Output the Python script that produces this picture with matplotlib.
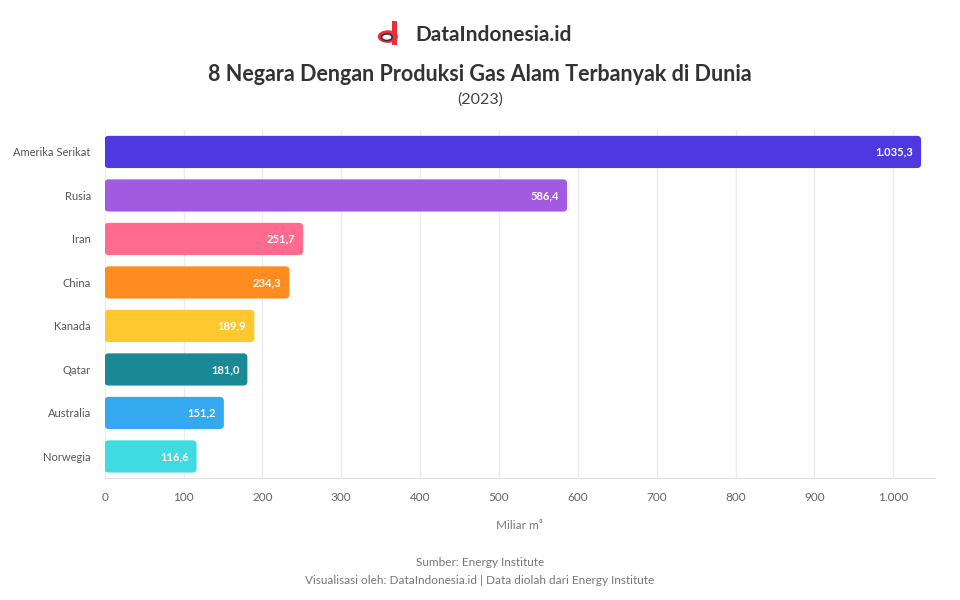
import numpy as np
import matplotlib.pyplot as plt
from matplotlib.patches import FancyBboxPatch, Circle, Rectangle

# ==================================================
# DATA
# ==================================================
negara = ["Amerika Serikat", "Rusia", "Iran", "China", "Kanada", "Qatar", "Australia", "Norwegia"]
produksi = [1035.3, 586.4, 251.7, 234.3, 189.9, 181.0, 151.2, 116.6]   # miliar m3
warna = ["#5038e0", "#a25be0", "#ff6b8e", "#ff8c1f", "#ffc82e", "#1b8995", "#35a9ef", "#40dbe0"]
xticks = [0, 100, 200, 300, 400, 500, 600, 700, 800, 900, 1000]


def format_id(v, desimal=1):
    # format angka gaya Indonesia: titik ribuan, koma desimal
    s = f"{v:,.{desimal}f}"
    return s.replace(",", "X").replace(".", ",").replace("X", ".")


plt.rcParams['font.family'] = ['Lato', 'DejaVu Sans']

fig = plt.figure(figsize=(9.6, 6), dpi=100)
ax = fig.add_axes([0.109, 0.203, 0.865, 0.580])

xmax = 1053
ax.set_xlim(0, xmax)
ax.set_ylim(7.5, -0.5)

# skala piksel -> data, untuk sudut bulat
px_x = xmax / (0.865 * 960)
px_y = 8 / (0.580 * 600)
r = 4 * px_x
tinggi = 0.74

for i, (v, c) in enumerate(zip(produksi, warna)):
    p = FancyBboxPatch((0, i - tinggi / 2), v, tinggi,
                       boxstyle=f"round,pad=0,rounding_size={r}",
                       mutation_aspect=px_y / px_x,
                       facecolor=c, edgecolor='none', zorder=3)
    ax.add_patch(p)
    ax.text(v - 8 * px_x, i, format_id(v), ha='right', va='center', color='white',
            fontsize=8, fontweight='bold', zorder=4)

ax.set_yticks(range(len(negara)))
ax.set_yticklabels(negara, fontsize=8, color='#555555')
ax.set_xticks(xticks)
ax.set_xticklabels([format_id(t, 0) for t in xticks], fontsize=8.5, color='#666666')
ax.tick_params(axis='both', length=0, pad=10)
ax.grid(axis='x', color='#ececec', linewidth=1, zorder=0)
for s in ['top', 'right', 'left']:
    ax.spines[s].set_visible(False)
ax.spines['bottom'].set_color('#e0e0e0')
ax.set_xlabel("Miliar m³", fontsize=8.5, color='#777777', labelpad=12)

# ==================================================
# JUDUL DAN LOGO
# ==================================================
fig.text(0.514, 0.941, "DataIndonesia.id", ha='center', va='center',
         fontsize=15, fontweight='bold', color='#333333')
fig.patches.append(Circle((0.404, 0.939), 0.0105, transform=fig.transFigure,
                          facecolor='#e8303a', edgecolor='none'))
fig.patches.append(Rectangle((0.408, 0.925), 0.0055, 0.04, transform=fig.transFigure,
                             facecolor='#e8303a', edgecolor='none'))
fig.patches.append(Circle((0.403, 0.938), 0.0055, transform=fig.transFigure,
                          facecolor='white', edgecolor='#333333', linewidth=1.2))

fig.text(0.5, 0.876, "8 Negara Dengan Produksi Gas Alam Terbanyak di Dunia",
         ha='center', va='center', fontsize=15.5, fontweight='bold', color='#333333')
fig.text(0.5, 0.834, "(2023)", ha='center', va='center', fontsize=11.5, color='#444444')

fig.text(0.5, 0.062, "Sumber: Energy Institute", ha='center', va='center',
         fontsize=8.5, color='#777777')
fig.text(0.5, 0.033, "Visualisasi oleh: DataIndonesia.id | Data diolah dari Energy Institute",
         ha='center', va='center', fontsize=8.5, color='#777777')

fig.savefig("out.png", dpi=100)
